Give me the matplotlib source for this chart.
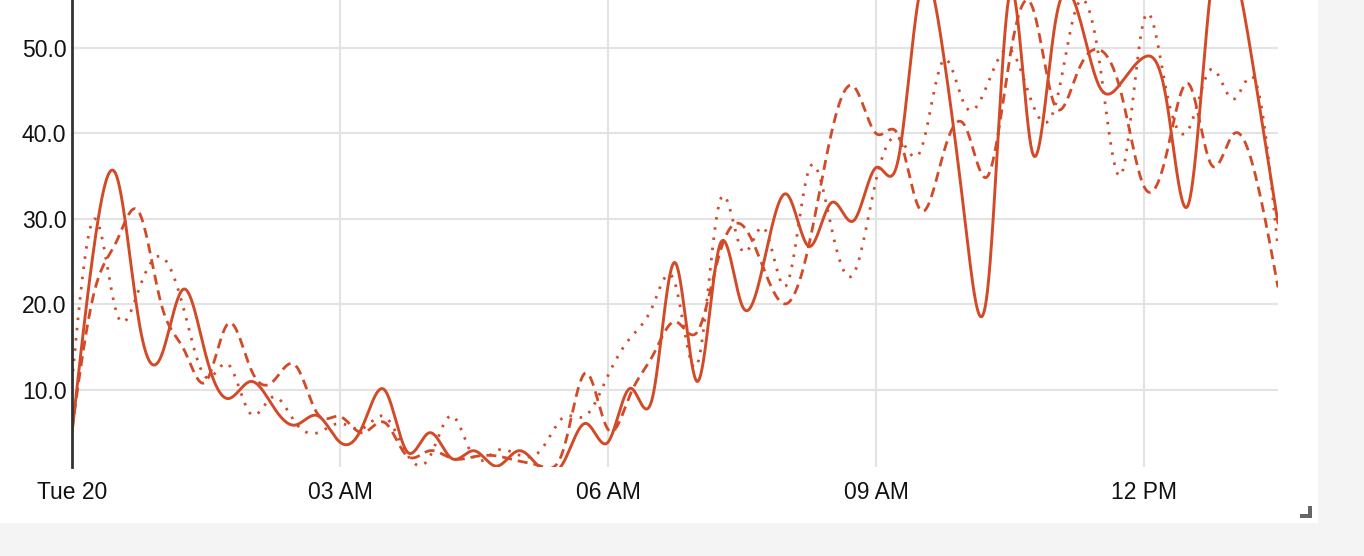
import numpy as np
import matplotlib
matplotlib.use('Agg')
import matplotlib.pyplot as plt
from matplotlib.patches import Rectangle

plt.rcParams['font.family'] = ['Liberation Sans', 'DejaVu Sans']
plt.rcParams['lines.scale_dashes'] = False

# samples every 15 minutes from Tue 20 00:00 to 13:30
hours = np.arange(55) * 0.25

solid = [5, 27, 35, 18, 14, 21.8, 14, 9, 11, 8.1,
         5.9, 7, 3.9, 5.7, 10, 2.8, 5, 2, 2.9, 1.1,
         2.9, 0.8, 1.5, 6.1, 3.9, 10.2, 9.2, 24.9, 11, 26.9,
         19.9, 25.2, 32.9, 26.8, 31.9, 29.8, 36, 37, 57, 49.6,
         29.5, 21.8, 56.5, 37.8, 52.5, 54.5, 45.5, 46, 48.9, 44,
         31.8, 57, 60, 46, 29.5]

dashed = [5.4, 21.5, 27.4, 30.8, 20, 14.8, 11, 17.8, 12.5, 11,
          12.9, 7.2, 6.9, 5, 6.2, 2.3, 2.9, 2.0, 2.2, 2.3,
          1.7, 1.1, 3.0, 12.0, 5.4, 9.5, 14, 18, 16.8, 26,
          29.3, 24, 20.1, 27, 40, 45.5, 40, 39.8, 31, 37.5,
          40.8, 35, 49, 54.8, 43.3, 47, 49.8, 44.5, 33.8, 37.5,
          45.8, 36.4, 39.9, 35, 22]

dotted = [11, 30, 19, 21.8, 25.6, 19.5, 11.5, 13, 7.2, 9.2,
          6.2, 5.0, 6.1, 5.5, 6.9, 2.5, 2.1, 7.0, 2.1, 2.9,
          2.4, 3.0, 6.8, 7.0, 11.7, 16.1, 19.8, 22.5, 13, 32,
          26.3, 28.9, 22.3, 35.8, 29, 23.6, 34.5, 39.5, 38, 48.5,
          43.2, 45.8, 49.8, 43.5, 43, 54.9, 48.5, 35.3, 53.3, 45,
          40.5, 47.5, 44, 46, 26.5]

tick_hours = [0, 3, 6, 9, 12]
tick_labels = ['Tue 20', '03 AM', '06 AM', '09 AM', '12 PM']
y_ticks = [10, 20, 30, 40, 50]

color = '#d24a28'


def natural_spline(x, y, xs):
    x = np.asarray(x, float)
    y = np.asarray(y, float)
    n = len(x)
    h = np.diff(x)
    A = np.zeros((n, n))
    r = np.zeros(n)
    A[0, 0] = A[-1, -1] = 1
    for i in range(1, n - 1):
        A[i, i - 1] = h[i - 1]
        A[i, i] = 2 * (h[i - 1] + h[i])
        A[i, i + 1] = h[i]
        r[i] = 3 * ((y[i + 1] - y[i]) / h[i] - (y[i] - y[i - 1]) / h[i - 1])
    c = np.linalg.solve(A, r)
    b = (y[1:] - y[:-1]) / h - h * (2 * c[:-1] + c[1:]) / 3
    d = (c[1:] - c[:-1]) / (3 * h)
    idx = np.clip(np.searchsorted(x, xs) - 1, 0, n - 2)
    dx = xs - x[idx]
    return y[idx] + b[idx] * dx + c[idx] * dx ** 2 + d[idx] * dx ** 3


W, H = 1364, 556
fig = plt.figure(figsize=(W / 100, H / 100), dpi=100)
fig.patch.set_facecolor('#f4f4f4')

# white panel and resize handle
fig.add_artist(Rectangle((0, (H - 523) / H), 1318 / W, 523 / H,
                         transform=fig.transFigure, facecolor='white',
                         edgecolor='none', zorder=-10))
fig.add_artist(Rectangle((1308 / W, (H - 517.5) / H), 4 / W, 11.5 / H,
                         transform=fig.transFigure, facecolor='#666666',
                         edgecolor='none'))
fig.add_artist(Rectangle((1300 / W, (H - 517.5) / H), 12 / W, 3.5 / H,
                         transform=fig.transFigure, facecolor='#666666',
                         edgecolor='none'))

ax = fig.add_axes([72 / W, (H - 467) / H, 1206 / W, 467 / H])
ax.set_facecolor('none')

xs = np.linspace(hours[0], hours[-1], 3000)
ax.plot(xs, natural_spline(hours, dotted, xs), color=color, lw=2.0,
        dashes=(1.8, 5.6), dash_capstyle='butt', zorder=3)
ax.plot(xs, natural_spline(hours, dashed, xs), color=color, lw=2.0,
        dashes=(7.2, 4.3), dash_capstyle='butt', zorder=4)
ax.plot(xs, natural_spline(hours, solid, xs), color=color, lw=2.1,
        solid_capstyle='round', zorder=5)

ax.set_xlim(0, 13.5)
ax.set_ylim(1.0, 55.6)

ax.set_xticks(tick_hours)
ax.set_xticklabels(tick_labels)
ax.set_yticks(y_ticks)
ax.set_yticklabels(['%.1f' % v for v in y_ticks])
ax.tick_params(axis='both', length=0, labelsize=16.5, labelcolor='#111111')
ax.tick_params(axis='x', pad=10)
ax.tick_params(axis='y', pad=4)

ax.grid(True, color='#e3e3e3', lw=1.5, zorder=0)
ax.set_axisbelow(True)
for s in ['top', 'right', 'bottom']:
    ax.spines[s].set_visible(False)
ax.spines['left'].set_color('#333333')
ax.spines['left'].set_linewidth(2.0)
ax.spines['left'].set_zorder(6)

fig.savefig('out.png', dpi=100, facecolor=fig.get_facecolor())
